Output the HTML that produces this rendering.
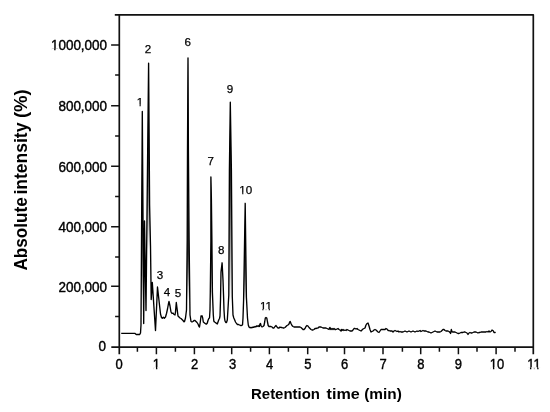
<!DOCTYPE html>
<html><head><meta charset="utf-8"><title>Chromatogram</title>
<style>
html,body{margin:0;padding:0;background:#fff;}
body{width:550px;height:412px;overflow:hidden;}
svg{display:block;}
text{font-family:"Liberation Sans",Arial,Helvetica,sans-serif;fill:#000;stroke:#000;stroke-width:0.25px;}
.tick{font-size:14.2px;stroke-width:0.4px;}
.pk{font-size:11.6px;}
.ttl{font-weight:bold;stroke:none;}
</style></head><body>
<svg width="550" height="412" viewBox="0 0 550 412">
<rect width="550" height="412" fill="#fff"/>

<g stroke="#111" stroke-width="1.7" fill="none" stroke-linecap="butt" stroke-linejoin="round">
<path d="M114.8,14.8 H533.3 V354.2 M119.3,13.950000000000001 V354.2 M111.3,347.2 H534.15"/>
</g>
<g stroke="#111" stroke-width="1.5" fill="none">
<path d="M115.1,316.6 H119.3 M111.1,286.3 H119.3 M115.1,257.0 H119.3 M111.1,226.7 H119.3 M115.1,196.4 H119.3 M111.1,166.2 H119.3 M115.1,136.1 H119.3 M111.1,105.7 H119.3 M115.1,75.1 H119.3 M111.1,45.0 H119.3 M137.4,347.2 V351.7 M156.4,347.2 V354.2 M175.4,347.2 V351.7 M194.4,347.2 V354.2 M213.5,347.2 V351.7 M231.7,347.2 V354.2 M250.6,347.2 V351.7 M269.4,347.2 V354.2 M288.4,347.2 V351.7 M307.7,347.2 V354.2 M327.0,347.2 V351.7 M344.5,347.2 V354.2 M364.0,347.2 V351.7 M383.0,347.2 V354.2 M402.4,347.2 V351.7 M420.7,347.2 V354.2 M439.4,347.2 V351.7 M458.4,347.2 V354.2 M477.0,347.2 V351.7 M496.1,347.2 V354.2 M515.0,347.2 V351.7"/>
</g>
<g transform="translate(106.10,351.20) scale(0.95,1)"><text class="tick" text-anchor="end">0</text></g>
<g transform="translate(107.10,291.80) scale(0.95,1)"><text class="tick" text-anchor="end">200,000</text></g>
<g transform="translate(107.10,232.40) scale(0.95,1)"><text class="tick" text-anchor="end">400,000</text></g>
<g transform="translate(107.10,171.90) scale(0.95,1)"><text class="tick" text-anchor="end">600,000</text></g>
<g transform="translate(107.10,111.20) scale(0.95,1)"><text class="tick" text-anchor="end">800,000</text></g>
<g transform="translate(107.10,50.20) scale(0.95,1)"><text class="tick" text-anchor="end">1000,000</text><rect x="-58.79" y="-1.51" width="3.05" height="2.76" fill="#fff"/><rect x="-54.24" y="-1.51" width="2.84" height="2.76" fill="#fff"/></g>
<g transform="translate(119.20,368.70) scale(0.915,1)"><text class="tick" text-anchor="middle">0</text></g>
<g transform="translate(156.40,368.70) scale(0.915,1)"><text class="tick" text-anchor="middle">1</text><rect x="-3.52" y="-1.51" width="3.05" height="2.76" fill="#fff"/><rect x="1.02" y="-1.51" width="2.84" height="2.76" fill="#fff"/></g>
<g transform="translate(194.50,368.70) scale(0.915,1)"><text class="tick" text-anchor="middle">2</text></g>
<g transform="translate(232.50,368.70) scale(0.915,1)"><text class="tick" text-anchor="middle">3</text></g>
<g transform="translate(269.60,368.70) scale(0.915,1)"><text class="tick" text-anchor="middle">4</text></g>
<g transform="translate(307.80,368.70) scale(0.915,1)"><text class="tick" text-anchor="middle">5</text></g>
<g transform="translate(344.60,368.70) scale(0.915,1)"><text class="tick" text-anchor="middle">6</text></g>
<g transform="translate(383.20,368.70) scale(0.915,1)"><text class="tick" text-anchor="middle">7</text></g>
<g transform="translate(420.90,368.70) scale(0.915,1)"><text class="tick" text-anchor="middle">8</text></g>
<g transform="translate(458.40,368.70) scale(0.915,1)"><text class="tick" text-anchor="middle">9</text></g>
<g transform="translate(497.00,368.70) scale(0.915,1)"><text class="tick" text-anchor="middle">10</text><rect x="-7.47" y="-1.51" width="3.05" height="2.76" fill="#fff"/><rect x="-2.93" y="-1.51" width="2.84" height="2.76" fill="#fff"/></g>
<g transform="translate(534.00,368.70) scale(0.915,1)"><text class="tick" text-anchor="middle">11</text><rect x="-7.47" y="-1.51" width="3.05" height="2.76" fill="#fff"/><rect x="-2.93" y="-1.51" width="2.84" height="2.76" fill="#fff"/><rect x="0.43" y="-1.51" width="3.05" height="2.76" fill="#fff"/><rect x="4.97" y="-1.51" width="2.84" height="2.76" fill="#fff"/></g>
<g transform="translate(139.90,105.90) scale(1,1)"><text class="pk" text-anchor="middle">1</text><rect x="-2.88" y="-1.30" width="2.49" height="2.55" fill="#fff"/><rect x="0.84" y="-1.30" width="2.32" height="2.55" fill="#fff"/></g>
<g transform="translate(148.00,52.60) scale(1,1)"><text class="pk" text-anchor="middle">2</text></g>
<g transform="translate(159.90,279.00) scale(1,1)"><text class="pk" text-anchor="middle">3</text></g>
<g transform="translate(167.00,295.90) scale(1,1)"><text class="pk" text-anchor="middle">4</text></g>
<g transform="translate(177.90,297.00) scale(1,1)"><text class="pk" text-anchor="middle">5</text></g>
<g transform="translate(187.80,46.20) scale(1,1)"><text class="pk" text-anchor="middle">6</text></g>
<g transform="translate(210.70,165.00) scale(1,1)"><text class="pk" text-anchor="middle">7</text></g>
<g transform="translate(221.20,254.00) scale(1,1)"><text class="pk" text-anchor="middle">8</text></g>
<g transform="translate(229.90,93.00) scale(1,1)"><text class="pk" text-anchor="middle">9</text></g>
<g transform="translate(245.80,194.00) scale(1,1)"><text class="pk" text-anchor="middle">10</text><rect x="-6.10" y="-1.30" width="2.49" height="2.55" fill="#fff"/><rect x="-2.39" y="-1.30" width="2.32" height="2.55" fill="#fff"/></g>
<g transform="translate(265.90,310.30) scale(1,1)"><text class="pk" text-anchor="middle">11</text><rect x="-6.10" y="-1.30" width="2.49" height="2.55" fill="#fff"/><rect x="-2.39" y="-1.30" width="2.32" height="2.55" fill="#fff"/><rect x="0.35" y="-1.30" width="2.49" height="2.55" fill="#fff"/><rect x="4.06" y="-1.30" width="2.32" height="2.55" fill="#fff"/></g>
<text class="ttl" y="398.7" font-size="14.5"><tspan x="251.0" textLength="69" lengthAdjust="spacingAndGlyphs">Retention</tspan> <tspan x="326.6" textLength="33.2" lengthAdjust="spacingAndGlyphs">time</tspan> <tspan x="364.2" textLength="37.6" lengthAdjust="spacingAndGlyphs">(min)</tspan></text>
<text class="ttl" transform="translate(26.9,0) rotate(-90)" font-size="18"><tspan x="-270.6" textLength="73.5" lengthAdjust="spacingAndGlyphs">Absolute</tspan> <tspan x="-194.6" textLength="72" lengthAdjust="spacingAndGlyphs">intensity</tspan> <tspan x="-118.1" textLength="28.8" lengthAdjust="spacingAndGlyphs">(%)</tspan></text>
<linearGradient id="g38" gradientUnits="userSpaceOnUse" x1="0" y1="58.0" x2="0" y2="300.0"><stop offset="0" stop-color="#000" stop-opacity="1"/><stop offset="0.8" stop-color="#000" stop-opacity="0.8"/><stop offset="1" stop-color="#000" stop-opacity="0"/></linearGradient>
<polygon points="186.60,300.00 187.20,240.00 187.50,150.00 188.00,58.00 188.40,150.00 189.10,240.00 189.82,300.00" fill="url(#g38)"/>
<linearGradient id="g40" gradientUnits="userSpaceOnUse" x1="0" y1="177.0" x2="0" y2="300.0"><stop offset="0" stop-color="#000" stop-opacity="1"/><stop offset="0.5" stop-color="#000" stop-opacity="0.8"/><stop offset="1" stop-color="#000" stop-opacity="0"/></linearGradient>
<polygon points="210.17,300.00 210.30,292.00 210.90,241.00 210.90,177.00 211.40,200.00 211.90,241.00 212.40,292.00 212.71,300.00" fill="url(#g40)"/>
<linearGradient id="g42" gradientUnits="userSpaceOnUse" x1="0" y1="102.2" x2="0" y2="300.0"><stop offset="0" stop-color="#000" stop-opacity="1"/><stop offset="0.4" stop-color="#000" stop-opacity="0.8"/><stop offset="1" stop-color="#000" stop-opacity="0"/></linearGradient>
<polygon points="228.51,300.00 228.80,295.00 229.40,170.00 230.30,102.20 231.40,170.00 232.30,297.00 232.42,300.00" fill="url(#g42)"/>
<linearGradient id="g44" gradientUnits="userSpaceOnUse" x1="0" y1="203.3" x2="0" y2="300.0"><stop offset="0" stop-color="#000" stop-opacity="1"/><stop offset="0.6" stop-color="#000" stop-opacity="0.8"/><stop offset="1" stop-color="#000" stop-opacity="0"/></linearGradient>
<polygon points="243.60,300.00 245.20,203.30 246.40,297.00 246.56,300.00" fill="url(#g44)"/>
<linearGradient id="g46" gradientUnits="userSpaceOnUse" x1="0" y1="63.2" x2="0" y2="250.0"><stop offset="0" stop-color="#000" stop-opacity="1"/><stop offset="0.5" stop-color="#000" stop-opacity="0.8"/><stop offset="1" stop-color="#000" stop-opacity="0"/></linearGradient>
<polygon points="146.64,250.00 148.60,63.20 149.60,205.00 150.50,246.00 150.55,250.00" fill="url(#g46)"/>
<linearGradient id="g48" gradientUnits="userSpaceOnUse" x1="0" y1="111.5" x2="0" y2="300.0"><stop offset="0" stop-color="#000" stop-opacity="1"/><stop offset="0.6" stop-color="#000" stop-opacity="0.8"/><stop offset="1" stop-color="#000" stop-opacity="0"/></linearGradient>
<polygon points="141.15,300.00 142.30,111.50 143.54,300.00" fill="url(#g48)"/>
<polyline points="121.2,333.3 134.8,333.3 136.2,334.5 139.7,334.5 140.5,333 141,325 142.3,111.5 143.7,323.5 144.5,221 146,310.5 148.6,63.2 149.6,205 150.5,246 151.2,299.5 152.3,282.5 155.5,330.5 157.5,287 159.5,305 160.5,314 161.5,317.5 162.3,318.3 163.3,317.3 164.3,318.3 165.5,317 166.5,313.5 167.5,309 168.5,303.5 169,301.5 170,306 171,312 172,313.5 173,313 174,314.5 175,315 175.5,312 176.3,302.5 177,308 178,316 179,317 180,318 181,318.5 182,319.5 183,320.5 184,321.8 184.5,321.5 185.5,318 186.5,310 187.2,240 187.5,150 188,58 188.4,150 189.1,240 190,315 191,321.5 192,322 193,321.5 194,320.5 195,320.5 196,321.5 197,322.5 198,324 199,326.5 199.5,327 200.3,322 201,316 202,315.8 202.7,318 203.3,322 204.5,323 205.5,323.8 206.5,324 207.3,323 208,320.5 208.8,318.5 209.5,318 210,310 210.3,292 210.9,241 210.9,177 211.4,200 211.9,241 212.4,292 213.3,315 213.8,321 214.5,322 215.5,322.5 216.5,323.5 217.3,324 218,322 218.7,320 219.5,318.5 220,316 220.5,300 221,272 222.1,262.8 223,280 223.6,297 224,310 224.5,318 225,321 225.8,322.5 226.5,322.5 227.3,320 227.8,312 228.8,295 229.4,170 230.3,102.2 231.4,170 232.3,297 233,315 233.8,318 234.5,319.5 235.5,322 236.5,323.5 237.5,324.5 238.5,324.5 239.5,325 240.5,325.5 241.5,325.5 242.5,325 243,318 243.6,300 245.2,203.3 246.4,297 247.5,318 248.3,325 249,327 250,327.8 251,327.3 252,327.8 253,327 254,327.3 255,326.5 256,326.8 257,325.8 258,326.5 259,325.5 259.5,326.5 260,324 260.5,323.5 261,325.5 262,327 263,326.5 264,325.5 264.7,322 265.3,318 266,317.5 266.8,318 267.5,322 268.2,325.5 269,326.5 270,326.5 271,326.5 272,327 273,328 274,328 275,326.5 276,325.5 277,327 278,328 279,328 280,327 281,327.5 282,327.5 283,328 284,328 285,327.5 286,326.5 287,325.5 288,325 289,324 289.7,322 290.2,321.5 291,323.5 292,325.5 293,326.5 294,327 295,327 296,327 297,327 298,327 299,327 300,327 301,327.5 302,328.5 303,329.5 304,329.5 305,328.5 306,326.5 307,325.5 308,326 309,327.5 310,328.5 311,329.5 312,330 313,330 314,329.5 315,328.5 316,328.5 317,328.2 318,328 319,327 320,326.8 321,327 322,327.5 323,328 324,328 325,328 326,328 327,328.5 328,329 329,329.5 329.5,328 330,327.5 330.5,329 331,329.5 332,328.5 333,329.5 334,328.5 335,329.5 336,329.5 337,329 338,328.5 339,329.5 340,330 341,331 341.5,329.5 342,330.5 343,329.5 344,330.5 345,330 346,330.5 347,329.5 348,330 349,330.5 350,331 351,331 352,331 353,330 354,328.5 355,328.5 356,329 357,328.5 358,329.5 359,330 360,330.5 361,331 362,330 363,329 364,328.5 365,328 366,325 367,323.5 368,323 369,326 370,329.5 371,332 372,331.5 373,331 374,330 375,329.5 376,330 377,331 378,332 379,332.5 380,331 381,329.5 382,329.5 383,329.5 384,329.5 385,329.5 386,328.5 387,329 388,330.5 389,330.5 390,331 391,331 392,331 393,332 394,331 395,330.5 396,331 397,331.5 398,331 399,332 400,331.5 401,332 402,332 403,332 404,331.5 405,331 406,331.5 407,332 408,331.5 409,331 410,331.5 411,332 412,331.5 413,331 414,331.5 415,332 416,331.5 417,331 418,331.5 419,331 420,330.5 421,331.5 422,331 423,330.5 424,331 425,331 426,331 427,331.5 428,332 429,332 430,332.5 431,333 432,332.5 433,332 434,331.5 435,331 436,331.5 437,332 438,332 439,332 440,332 441,331.5 442,330.5 443,329.5 444,329.5 445,330.5 446,331 447,331 448,331 449,331.5 450,332.5 450.6,333.5 451.3,329.5 452,331.8 453,332 454,332 455,332 456,332.5 457,333 458,333.5 459,333.5 460,333 461,332.5 462,332.5 463,332.5 464,332 465,332 466,332.5 467,333 468,334.5 469,333 470,332.5 471,333 472,333 473,332.5 474,332 475,332 476,332 477,332.5 478,333 479,332.5 480,332.5 481,332 482,332 483,332 484,332 485,332 486,332 487,331.5 488,332 489,331 490,332 491,331.5 492,330 493,330.5 494,332.5 495,332.5 495.5,332" fill="none" stroke="#000" stroke-width="1.35" stroke-linejoin="round" stroke-linecap="butt"/>
</svg></body></html>
